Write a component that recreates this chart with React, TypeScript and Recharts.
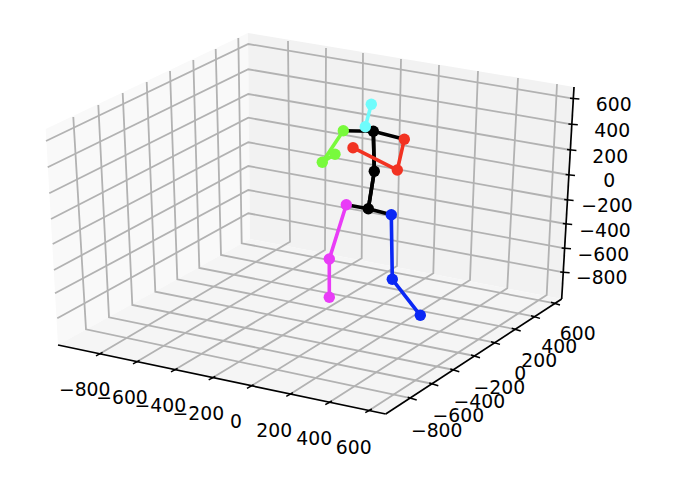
import { ScatterChart, Scatter, XAxis, YAxis } from 'recharts'

type Pt = { x: number; y: number; text?: string }
type Pair = [number, number]

const leftPane: Pair[] = [[45.7, 129], [248, 33], [250, 239], [58, 345]]
const backPane: Pair[] = [[248, 33], [574, 87], [561.7, 299], [250, 239]]
const floorPane: Pair[] = [[58, 345], [250, 239], [561.7, 299], [385.7, 414]]

const xTicks: Pair[] = [[99, 354.3], [136, 362.3], [174, 370.3], [211.7, 378.3], [250, 386.7], [289.3, 394.7], [328.3, 403], [368.3, 411]]
const xFloorEnd: Pair[] = [[290, 241.7], [325, 250], [361.7, 258.3], [397, 266], [433.3, 273.3], [470, 280], [507.3, 288.3], [546.7, 295]]
const xWallTop: Pair[] = [[288, 41], [326, 48], [363, 53], [401, 59], [439, 65], [478, 71], [518, 78], [557, 84]]

const yTicks: Pair[] = [[411.7, 398.3], [433.3, 384], [454.3, 370], [475, 356], [495, 342.7], [515.7, 329.3], [535, 316.7], [555, 303.3]]
const yFloorEnd: Pair[] = [[86, 329.3], [109, 317.3], [132.3, 305], [155.3, 291.7], [177.3, 279.3], [199.3, 268], [221, 255], [241.7, 243.3]]
const yWallTop: Pair[] = [[73.3, 117], [98.3, 105], [122.7, 93], [146.7, 82], [170, 71], [193.3, 60], [215.7, 49], [238.3, 38]]

const zLeftEnd: Pair[] = [[46, 141], [47.7, 167.3], [49.3, 193.3], [51, 219], [52.7, 244], [54, 270], [55, 293.3], [57.3, 318.3]]
const zCorner: Pair[] = [[248.3, 44], [248.3, 69.3], [248.3, 94], [248.3, 117.7], [248.3, 142.3], [248.3, 166], [248.3, 190], [248.3, 213.3]]
const zTicks: Pair[] = [[573.4, 98.6], [571.8, 124.3], [570.4, 150], [569, 175], [567.6, 200], [566.2, 224], [565, 248.3], [563.6, 272.3]]

const xAxisLine: Pair[] = [[58, 345], [385.7, 414]]
const yAxisLine: Pair[] = [[385.7, 414], [561.7, 299]]
const zAxisLine: Pair[] = [[574, 87], [561.7, 299]]

const xLabels = ['−800', '−600', '−400', '−200', '0', '200', '400', '600']
const xLabelPos: Pair[] = [[84.7, 389], [122, 396.7], [160.3, 405], [198.3, 412.7], [236, 421.3], [274.3, 430], [314.3, 438.3], [353.7, 447.3]]
const yLabels = ['−800', '−600', '−400', '−200', '0', '200', '400', '600']
const yLabelPos: Pair[] = [[436.7, 430], [458.3, 415], [479.3, 401], [499.3, 386.7], [520.3, 373.3], [539.3, 360], [559.3, 346], [577.7, 332.7]]
const zLabels = ['600', '400', '200', '0', '−200', '−400', '−600', '−800']
const zLabelPos: Pair[] = [[613.7, 104.3], [612.3, 130], [610.3, 155.7], [609.3, 180.3], [607, 205], [605, 230], [603.3, 254], [601.7, 276.7]]

// skeleton joints
const torsoLine: Pair[] = [[343.3, 130.7], [373.3, 131.3], [404.3, 139.3]]
const spineLine: Pair[] = [[373.3, 131.3], [374.3, 171.3], [368.3, 208.7]]
const hipLine: Pair[] = [[346.3, 204.7], [368.3, 208.7], [391.3, 214.7]]
const torsoJoints: Pair[] = [[373.3, 131.3], [374.3, 171.3], [368.3, 208.7]]
const headChain: Pair[] = [[365.3, 126.7], [371.3, 104.3]]
const greenArm: Pair[] = [[343.3, 130.7], [322.3, 162.3], [335, 154.3]]
const redArm: Pair[] = [[404.3, 139.3], [397.3, 170], [353, 147.7]]
const magentaLeg: Pair[] = [[346.3, 204.7], [329.3, 259], [329.3, 297.3]]
const blueLeg: Pair[] = [[391.3, 214.7], [392.3, 279.3], [420.3, 315.3]]

const toPts = (p: Pair[]): Pt[] => p.map(([x, y]) => ({ x, y }))
const labelPts = (t: string[], p: Pair[]): Pt[] => p.map(([x, y], i) => ({ x, y, text: t[i] }))

const gridLines: Pair[][] = [
  ...xTicks.map((t, i) => [t, xFloorEnd[i], xWallTop[i]]),
  ...yTicks.map((t, i) => [t, yFloorEnd[i], yWallTop[i]]),
  ...zTicks.map((t, i) => [zLeftEnd[i], zCorner[i], t]),
]

const tickMarks: Pair[][] = [
  ...xTicks.map(([x, y]): Pair[] => [[x - 3, y + 1.6], [x + 3.6, y - 2]]),
  ...yTicks.map(([x, y]): Pair[] => [[x - 4, y - 1], [x + 5, y + 1.7]]),
  ...zTicks.map(([x, y]): Pair[] => [[x - 3.4, y - 0.4], [x + 6, y + 0.4]]),
]

const NoMark = () => <g />

const dot = (color: string) => (props: any) => <circle cx={props.cx} cy={props.cy} r={5.7} fill={color} />

const AxisLabel = (props: any) => (
  <text
    x={props.cx}
    y={props.cy + 6.8}
    textAnchor="middle"
    fontFamily="DejaVu Sans"
    fontSize={18.8}
    fill="#000"
  >
    {props.payload.text}
  </text>
)

function Poly({ pts, color }: { pts: Pair[]; color: string }) {
  return (
    <Scatter
      data={toPts(pts)}
      line={{ fill: color, stroke: 'none' }}
      lineJointType="linear"
      shape={NoMark}
      isAnimationActive={false}
    />
  )
}

export default function App() {
  const stroke = (key: string, pts: Pair[], color: string, width: number) => (
    <Scatter
      key={key}
      data={toPts(pts)}
      line={{ stroke: color, strokeWidth: width, fill: 'none' }}
      lineJointType="linear"
      shape={NoMark}
      isAnimationActive={false}
    />
  )
  const limb = (key: string, pts: Pair[], color: string) => (
    <Scatter
      key={key}
      data={toPts(pts)}
      line={{ stroke: color, strokeWidth: 3.6, fill: 'none' }}
      lineJointType="linear"
      shape={dot(color)}
      isAnimationActive={false}
    />
  )
  const labels = (key: string, t: string[], p: Pair[]) => (
    <Scatter key={key} data={labelPts(t, p)} shape={AxisLabel} isAnimationActive={false} />
  )

  return (
    <div style={{ position: 'absolute', left: 0, top: 0, width: 694, height: 478, background: '#fff' }}>
      <ScatterChart width={694} height={478} margin={{ top: 0, right: 0, bottom: 0, left: 0 }}>
        <XAxis type="number" dataKey="x" domain={[0, 694]} hide />
        <YAxis type="number" dataKey="y" domain={[0, 478]} reversed hide />
        {Poly({ pts: leftPane, color: '#f9f9f9' })}
        {Poly({ pts: backPane, color: '#f2f2f2' })}
        {Poly({ pts: floorPane, color: '#f5f5f5' })}
        {gridLines.map((g, i) => stroke(`grid${i}`, g, '#b2b2b2', 1.8))}
        {stroke('xAxis', xAxisLine, '#000', 1.7)}
        {stroke('yAxis', yAxisLine, '#000', 1.7)}
        {stroke('zAxis', zAxisLine, '#000', 1.7)}
        {tickMarks.map((g, i) => stroke(`tick${i}`, g, '#000', 1.5))}
        {labels('xLabels', xLabels, xLabelPos)}
        {labels('yLabels', yLabels, yLabelPos)}
        {labels('zLabels', zLabels, zLabelPos)}
        {stroke('torso', torsoLine, '#000', 3.6)}
        {stroke('spine', spineLine, '#000', 3.6)}
        {stroke('hips', hipLine, '#000', 3.6)}
        {limb('torsoJoints', torsoJoints, '#000')}
        {limb('head', headChain, '#6ffcfc')}
        {limb('greenArm', greenArm, '#78fa3c')}
        {limb('redArm', redArm, '#f23322')}
        {limb('magentaLeg', magentaLeg, '#e93cf7')}
        {limb('blueLeg', blueLeg, '#0a28f5')}
      </ScatterChart>
    </div>
  )
}
